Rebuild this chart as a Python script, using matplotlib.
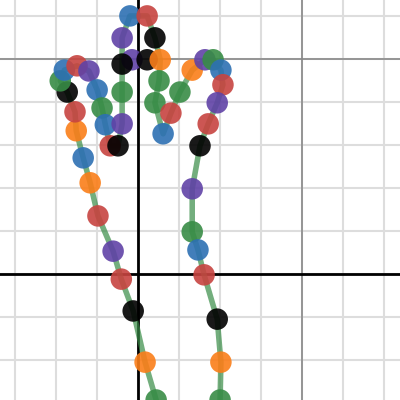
import numpy as np
import matplotlib.pyplot as plt

# point positions in grid units, in order along the curve
xs = [0.44, 0.17, -0.12, -0.41, -0.61, -0.98, -1.17, -1.34, -1.51, -1.54, -1.73, -1.9, -1.8,
      -1.49, -1.2, -1.0, -0.88, -0.8, -0.68, -0.49, -0.39, -0.39, -0.39, -0.39, -0.2, 0.22,
      0.41, 0.54, 0.51, 0.41, 0.61, 0.8, 1.02, 1.32, 1.63, 1.83, 2.02, 2.07, 1.93, 1.71,
      1.51, 1.32, 1.32, 1.46, 1.61, 1.93, 2.02, 2.0]
ys = [-2.93, -2.05, -0.86, -0.12, 0.53, 1.35, 2.12, 2.7, 3.33, 3.77, 4.23, 4.49, 4.74,
      4.84, 4.72, 4.28, 3.86, 3.47, 2.98, 2.98, 3.49, 4.23, 4.88, 5.49, 6.0, 6.0,
      5.49, 4.98, 4.49, 3.98, 3.26, 3.74, 4.23, 4.74, 4.98, 4.98, 4.74, 4.4, 3.98, 3.49,
      2.98, 1.98, 0.98, 0.56, -0.02, -1.05, -2.05, -2.93]
cols = ['green', 'orange', 'black', 'red', 'purple', 'red', 'orange', 'blue', 'orange', 'red',
        'black', 'green', 'blue', 'red', 'purple', 'blue', 'green', 'blue', 'red', 'black',
        'purple', 'green', 'black', 'purple', 'blue', 'red', 'black', 'orange', 'green', 'green',
        'blue', 'red', 'green', 'orange', 'purple', 'green', 'blue', 'red', 'purple', 'red',
        'black', 'purple', 'green', 'blue', 'red', 'black', 'orange', 'green']
extra_x = [-0.15, 0.22]
extra_y = [4.98, 4.98]
extra_c = ['purple', 'black']

palette = {'red': '#c74440', 'blue': '#2d70b3', 'green': '#388c46',
           'purple': '#6042a6', 'orange': '#fa7e19', 'black': '#000000'}

fig = plt.figure(figsize=(4, 4), dpi=100)
ax = fig.add_axes([0, 0, 1, 1])
ax.set_xlim(-3.37, 6.39)
ax.set_ylim(-2.93, 6.37)

for gx in np.arange(-3, 7):
    ax.axvline(gx, color='#dddddd', lw=1.5, zorder=0)
for gy in np.arange(-2, 7):
    ax.axhline(gy, color='#dddddd', lw=1.5, zorder=0)
ax.axvline(4, color='#888888', lw=1.2, zorder=0)
ax.axhline(5, color='#888888', lw=1.2, zorder=0)
ax.axvline(0, color='black', lw=2, zorder=1)
ax.axhline(0, color='black', lw=2, zorder=1)

ax.plot(xs, ys, color='#388c46', lw=4, alpha=0.7, zorder=2)
ax.scatter(extra_x, extra_y, s=240, c=[palette[c] for c in extra_c], alpha=0.9, lw=0, zorder=3)
ax.scatter(xs, ys, s=240, c=[palette[c] for c in cols], alpha=0.9, lw=0, zorder=3)
ax.axis('off')
fig.savefig('out.png')
